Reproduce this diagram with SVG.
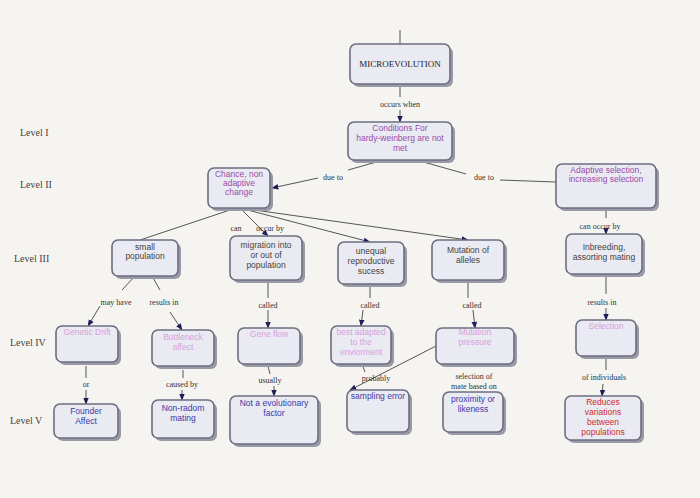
<svg xmlns="http://www.w3.org/2000/svg" width="700" height="498" viewBox="0 0 700 498">
<style>
.n{fill:#e9eaf2;stroke:#6c6e80;stroke-width:1.6}
.sh{fill:#9a9aa6}
.t{font-family:"Liberation Sans",Arial,sans-serif;font-size:8.5px;text-anchor:middle}
.g{fill:#444}.p{fill:#9a4aa8}.k{fill:#d8a0dc}.b{fill:#3a3aa8}.r{fill:#d02a2a}
.s{font-family:"Liberation Serif",serif;font-size:8px;fill:#333;text-anchor:middle}
.lv{font-family:"Liberation Serif",serif;font-size:10px;fill:#444}
.c line,.c path{stroke:#555;stroke-width:1;fill:none}
</style>
<defs><marker id="a" viewBox="0 0 10 10" refX="9" refY="5" markerWidth="7" markerHeight="7" orient="auto"><path d="M0,1L10,5L0,9z" fill="#1e1e5a"/></marker></defs>
<rect width="700" height="498" fill="#f5f4f0"/>
<text class="lv" x="20" y="136">Level I</text>
<text class="lv" x="20" y="188">Level II</text>
<text class="lv" x="14" y="262">Level III</text>
<text class="lv" x="10" y="346">Level IV</text>
<text class="lv" x="10" y="424">Level V</text>
<g class="c">
<line x1="400" y1="30" x2="400" y2="44"/>
<line x1="400" y1="84" x2="400" y2="97"/><line x1="400" y1="110" x2="400" y2="122" marker-end="url(#a)"/>
<line x1="380" y1="161" x2="348" y2="170"/><line x1="318" y1="178" x2="272" y2="188" marker-end="url(#a)"/>
<line x1="420" y1="161" x2="466" y2="174"/><line x1="500" y1="180" x2="556" y2="182"/>
<line x1="236" y1="208" x2="140" y2="240"/>
<line x1="240" y1="208" x2="268" y2="236" marker-end="url(#a)"/>
<line x1="240" y1="208" x2="370" y2="242" marker-end="url(#a)"/>
<line x1="240" y1="208" x2="468" y2="240" marker-end="url(#a)"/>
<line x1="606" y1="208" x2="606" y2="218"/><line x1="606" y1="228" x2="606" y2="234" marker-end="url(#a)"/>
<line x1="135" y1="276" x2="122" y2="290"/><line x1="100" y1="306" x2="88" y2="326" marker-end="url(#a)"/>
<line x1="152" y1="276" x2="160" y2="290"/><line x1="170" y1="312" x2="182" y2="330" marker-end="url(#a)"/>
<line x1="268" y1="280" x2="268" y2="298"/><line x1="268" y1="310" x2="268" y2="328" marker-end="url(#a)"/>
<line x1="370" y1="284" x2="370" y2="298"/><line x1="363" y1="310" x2="361" y2="326" marker-end="url(#a)"/>
<line x1="468" y1="280" x2="468" y2="298"/><line x1="473" y1="310" x2="475" y2="328" marker-end="url(#a)"/>
<line x1="606" y1="274" x2="606" y2="294"/><line x1="606" y1="308" x2="606" y2="320" marker-end="url(#a)"/>
<line x1="86" y1="366" x2="86" y2="378"/><line x1="86" y1="390" x2="86" y2="404" marker-end="url(#a)"/>
<line x1="183" y1="370" x2="183" y2="378"/><line x1="182" y1="390" x2="182" y2="400" marker-end="url(#a)"/>
<line x1="268" y1="366" x2="270" y2="374"/><line x1="274" y1="386" x2="274" y2="396" marker-end="url(#a)"/>
<line x1="362" y1="364" x2="365" y2="372"/>
<line x1="436" y1="346" x2="350" y2="390" marker-end="url(#a)"/>
<line x1="606" y1="358" x2="606" y2="370"/><line x1="603" y1="384" x2="602" y2="396" marker-end="url(#a)"/>
</g>
<g class="s">
<text x="400" y="107">occurs when</text>
<text x="333" y="180">due to</text><text x="484" y="180">due to</text>
<text x="236" y="231">can</text><text x="270" y="231">occur by</text>
<text x="600" y="229">can occur by</text>
<text x="116" y="305">may have</text><text x="164" y="305">results in</text>
<text x="268" y="308">called</text><text x="370" y="308">called</text><text x="472" y="308">called</text>
<text x="602" y="305">results in</text>
<text x="86" y="387">or</text><text x="182" y="387">caused by</text><text x="270" y="383">usually</text>
<text x="376" y="381">probably</text>
<text x="474" y="379">selection of</text><text x="474" y="389">mate based on</text>
<text x="604" y="380">of individuals</text>
</g>
<g id="microevolution"><rect class="sh" x="353" y="47" width="100" height="40" rx="6"/><rect class="n" x="350" y="44" width="100" height="40" rx="6"/><text x="400" y="67" font-family="Liberation Serif,serif" font-size="9" text-anchor="middle" fill="#222">MICROEVOLUTION</text></g>
<g id="conditions"><rect class="sh" x="351" y="125" width="104" height="38" rx="6"/><rect class="n" x="348" y="122" width="104" height="38" rx="6"/><text class="t p" x="400" y="131">Conditions For</text><text class="t p" x="400" y="141">hardy-weinberg are not</text><text class="t p" x="400" y="151">met</text></g>
<g id="chance"><rect class="sh" x="211" y="171" width="62" height="40" rx="6"/><rect class="n" x="208" y="168" width="62" height="40" rx="6"/><text class="t p" x="239" y="177">Chance, non</text><text class="t p" x="239" y="186">adaptive</text><text class="t p" x="239" y="195">change</text></g>
<g id="adaptive"><rect class="sh" x="559" y="167" width="100" height="44" rx="6"/><rect class="n" x="556" y="164" width="100" height="44" rx="6"/><text class="t p" x="606" y="173">Adaptive selection,</text><text class="t p" x="606" y="182">increasing selection</text></g>
<g id="small"><rect class="sh" x="115" y="243" width="66" height="36" rx="6"/><rect class="n" x="112" y="240" width="66" height="36" rx="6"/><text class="t g" x="145" y="250">small</text><text class="t g" x="145" y="259">population</text></g>
<g id="migration"><rect class="sh" x="233" y="239" width="72" height="44" rx="6"/><rect class="n" x="230" y="236" width="72" height="44" rx="6"/><text class="t g" x="266" y="248">migration into</text><text class="t g" x="266" y="258">or out of</text><text class="t g" x="266" y="268">population</text></g>
<g id="unequal"><rect class="sh" x="341" y="245" width="66" height="42" rx="6"/><rect class="n" x="338" y="242" width="66" height="42" rx="6"/><text class="t g" x="371" y="254">unequal</text><text class="t g" x="371" y="264">reproductive</text><text class="t g" x="371" y="274">sucess</text></g>
<g id="mutation-alleles"><rect class="sh" x="435" y="243" width="72" height="40" rx="6"/><rect class="n" x="432" y="240" width="72" height="40" rx="6"/><text class="t g" x="468" y="253">Mutation of</text><text class="t g" x="468" y="263">alleles</text></g>
<g id="inbreeding"><rect class="sh" x="569" y="237" width="76" height="40" rx="6"/><rect class="n" x="566" y="234" width="76" height="40" rx="6"/><text class="t g" x="604" y="250">Inbreeding,</text><text class="t g" x="604" y="260">assorting mating</text></g>
<g id="genetic-drift"><rect class="sh" x="59" y="329" width="62" height="36" rx="6"/><rect class="n" x="56" y="326" width="62" height="36" rx="6"/><text class="t k" x="87" y="335">Genetic Drift</text></g>
<g id="bottleneck"><rect class="sh" x="155" y="333" width="62" height="36" rx="6"/><rect class="n" x="152" y="330" width="62" height="36" rx="6"/><text class="t k" x="183" y="340">Bottleneck</text><text class="t k" x="183" y="350">affect</text></g>
<g id="gene-flow"><rect class="sh" x="241" y="331" width="62" height="36" rx="6"/><rect class="n" x="238" y="328" width="62" height="36" rx="6"/><text class="t k" x="269" y="337">Gene flow</text></g>
<g id="best-adapted"><rect class="sh" x="334" y="329" width="60" height="38" rx="6"/><rect class="n" x="331" y="326" width="60" height="38" rx="6"/><text class="t k" x="361" y="335">best adapted</text><text class="t k" x="361" y="345">to the</text><text class="t k" x="361" y="355">enviorment</text></g>
<g id="mutation-pressure"><rect class="sh" x="439" y="331" width="78" height="36" rx="6"/><rect class="n" x="436" y="328" width="78" height="36" rx="6"/><text class="t k" x="475" y="335">Mutation</text><text class="t k" x="475" y="345">pressure</text></g>
<g id="selection"><rect class="sh" x="579" y="323" width="60" height="36" rx="6"/><rect class="n" x="576" y="320" width="60" height="36" rx="6"/><text class="t k" x="606" y="329">Selection</text></g>
<g id="founder"><rect class="sh" x="57" y="407" width="64" height="34" rx="6"/><rect class="n" x="54" y="404" width="64" height="34" rx="6"/><text class="t b" x="86" y="414">Founder</text><text class="t b" x="86" y="424">Affect</text></g>
<g id="non-radom"><rect class="sh" x="155" y="403" width="62" height="38" rx="6"/><rect class="n" x="152" y="400" width="62" height="38" rx="6"/><text class="t b" x="183" y="411">Non-radom</text><text class="t b" x="183" y="421">mating</text></g>
<g id="not-evolutionary"><rect class="sh" x="233" y="399" width="88" height="48" rx="6"/><rect class="n" x="230" y="396" width="88" height="48" rx="6"/><text class="t b" x="274" y="406">Not a evolutionary</text><text class="t b" x="274" y="416">factor</text></g>
<g id="sampling-error"><rect class="sh" x="350" y="393" width="62" height="42" rx="6"/><rect class="n" x="347" y="390" width="62" height="42" rx="6"/><text class="t b" x="378" y="399">sampling error</text></g>
<g id="proximity"><rect class="sh" x="446" y="395" width="60" height="40" rx="6"/><rect class="n" x="443" y="392" width="60" height="40" rx="6"/><text class="t b" x="473" y="402">proximity or</text><text class="t b" x="473" y="412">likeness</text></g>
<g id="reduces"><rect class="sh" x="568" y="399" width="76" height="44" rx="6"/><rect class="n" x="565" y="396" width="76" height="44" rx="6"/><text class="t r" x="603" y="405">Reduces</text><text class="t r" x="603" y="415">variations</text><text class="t r" x="603" y="425">between</text><text class="t r" x="603" y="435">populations</text></g>
</svg>
